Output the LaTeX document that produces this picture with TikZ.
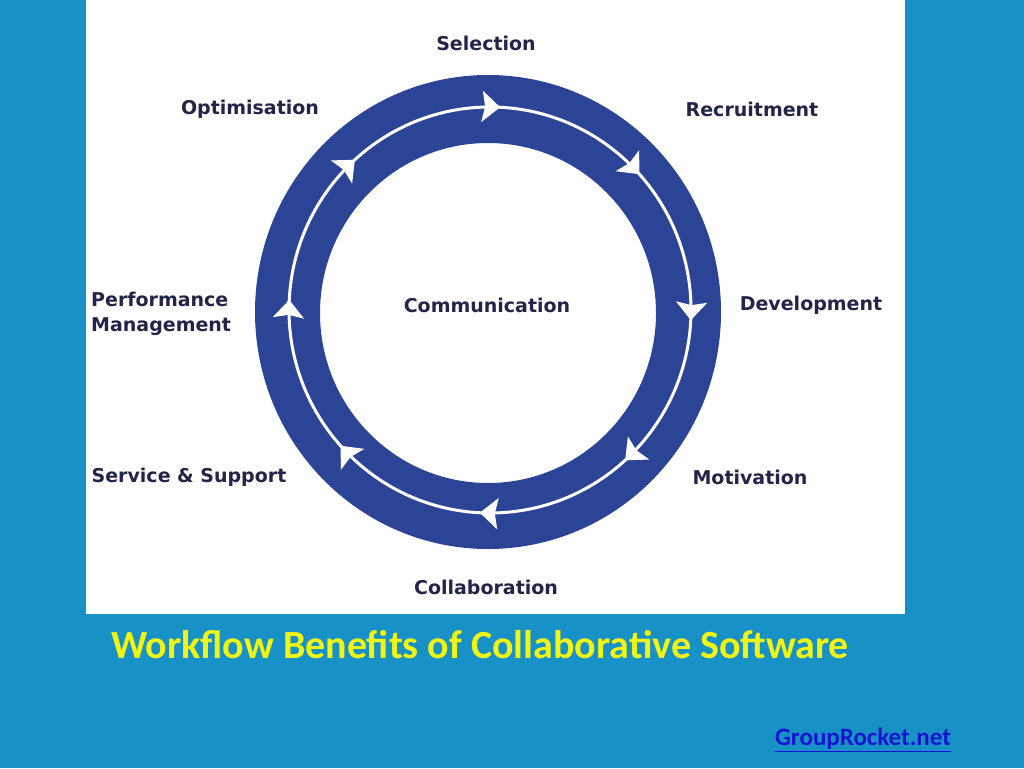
\documentclass[tikz,border=0pt]{standalone}
\usepackage{fontspec}
\setmainfont{DejaVu Sans}
\newfontfamily\titlefont{Carlito}
\usetikzlibrary{arrows.meta,decorations.markings}
\definecolor{bgblue}{RGB}{24,146,198}
\definecolor{ringblue}{RGB}{44,68,150}
\definecolor{labelcol}{RGB}{36,36,72}
\definecolor{titleyellow}{RGB}{240,245,20}
\definecolor{linkblue}{RGB}{20,20,210}
\begin{document}
\begin{tikzpicture}[x=1pt,y=-1pt,
  lbl/.style={font=\fontsize{19}{25}\selectfont\bfseries, text=labelcol, inner sep=0pt},
  flowarrows/.style={decoration={markings,
     mark=between positions 0.008 and 0.99 step 0.125 with {\arrow{Stealth[length=18pt,width=31pt,inset=3pt]}}},
     postaction={decorate}}]
\useasboundingbox (0,0) rectangle (1024,768);
\fill[bgblue] (0,0) rectangle (1024,768);
\fill[white] (86,0) rectangle (905,614);
% ring
\fill[ringblue, even odd rule] (488,312) ellipse [x radius=233, y radius=237]
                               (488,313) ellipse [x radius=168, y radius=170];
\draw[white, line width=3pt, flowarrows] (490,310) ellipse [x radius=201, y radius=203];
% labels
\node[lbl] (sel) at (486,43) {Selection};
\node[lbl] (opt) at (250,109) {Optimisation};
\node[lbl] (rec) at (752,109) {Recruitment};
\node[lbl, align=left, anchor=west] (perf) at (91,314) {Performance\\Management};
\node[lbl] (comm) at (487,305) {Communication};
\node[lbl] (dev) at (811,305) {Development};
\node[lbl] (serv) at (189,477) {Service \& Support};
\node[lbl] (mot) at (750,477) {Motivation};
\node[lbl] (col) at (486,587) {Collaboration};
% title and link
\node[font=\titlefont\fontsize{40}{46}\selectfont\bfseries, text=titleyellow, inner sep=0pt] (title) at (480,645) {Workflow Benefits of Collaborative Software};
\node[font=\titlefont\fontsize{25}{30}\selectfont\bfseries, text=linkblue, inner sep=0pt] (link) at (863,740) {\underline{GroupRocket.net}};
\end{tikzpicture}
\end{document}
